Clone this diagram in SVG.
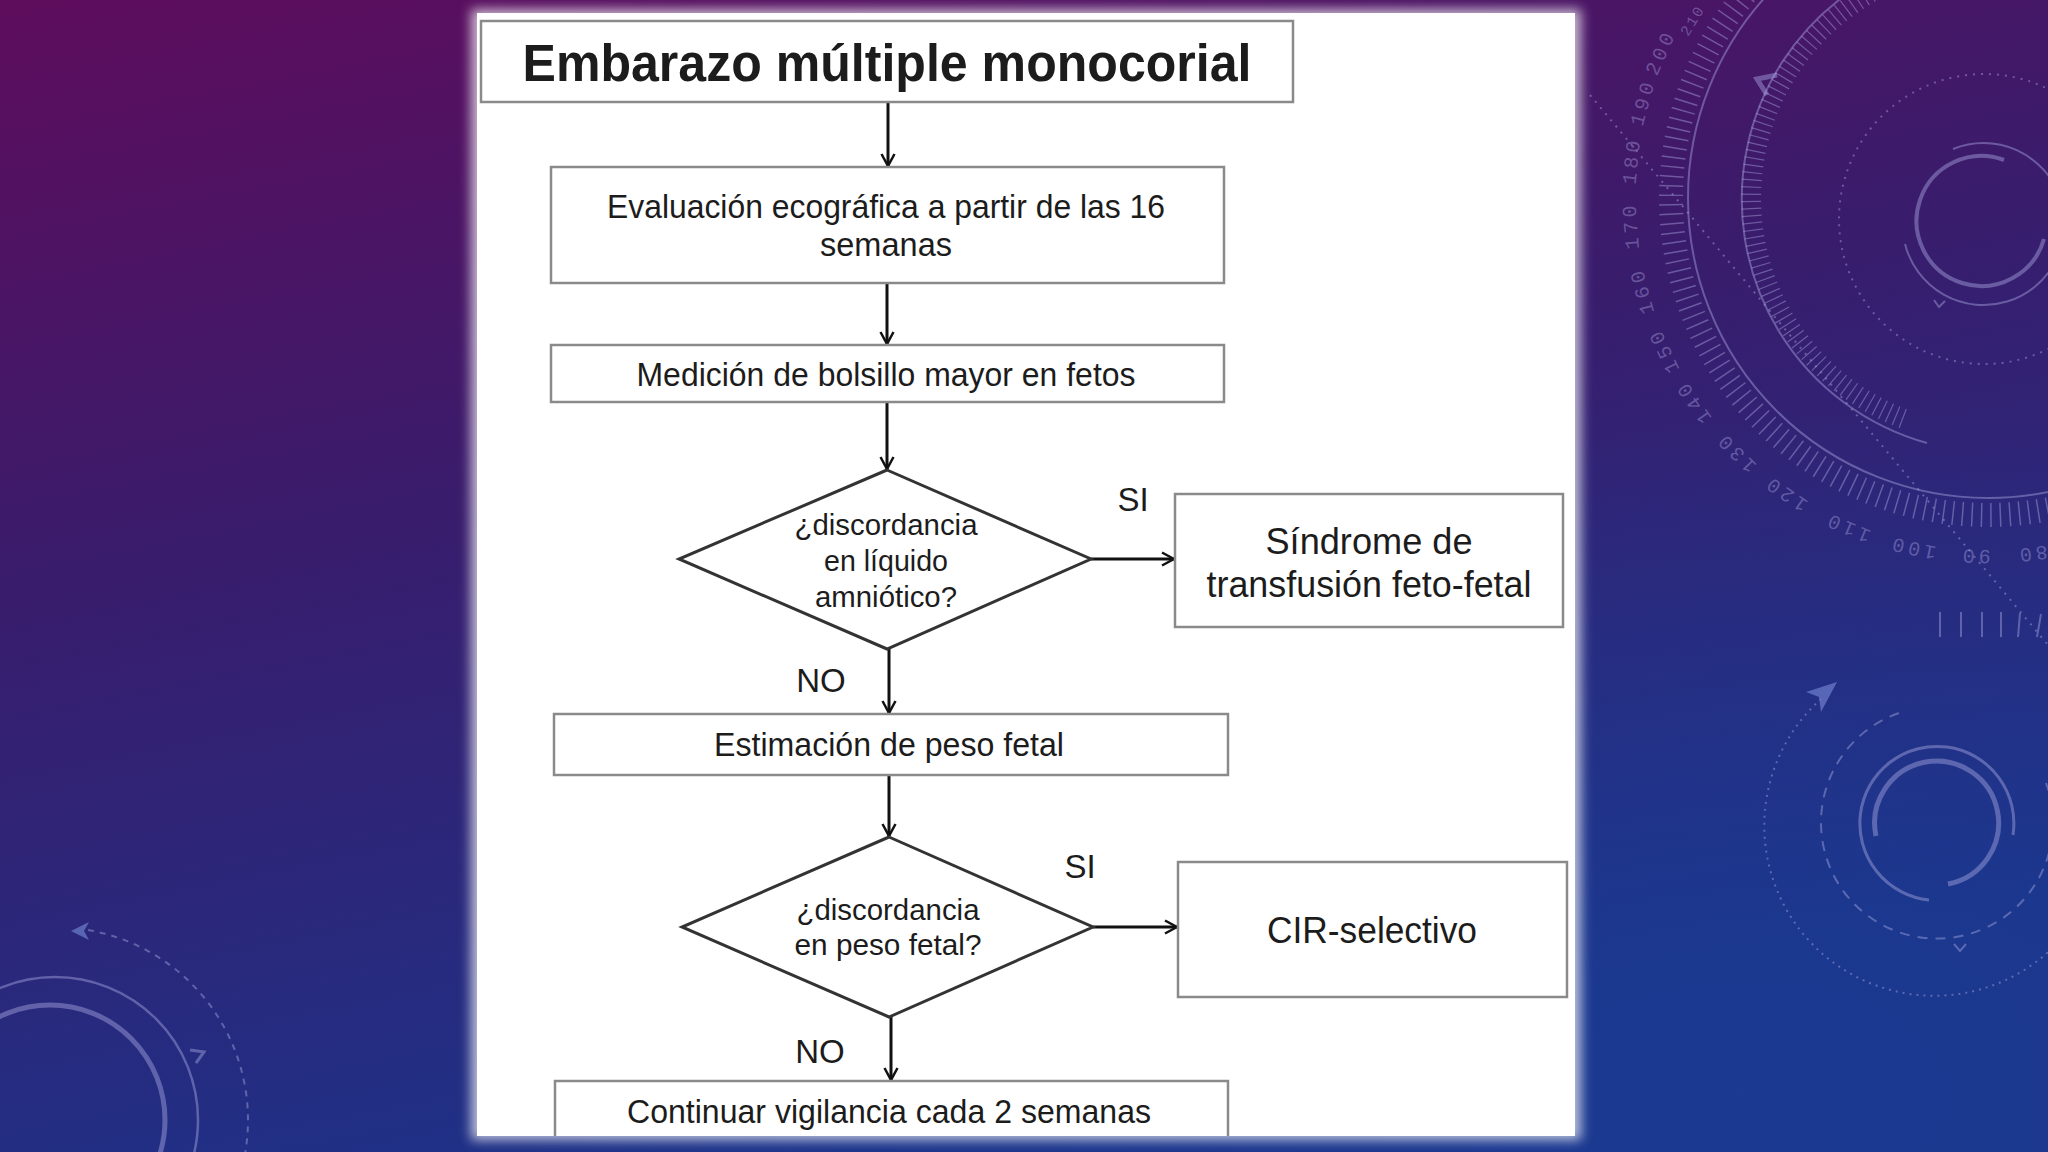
<svg xmlns="http://www.w3.org/2000/svg" width="2048" height="1152" viewBox="0 0 2048 1152">
<defs>
<linearGradient id="bg" x1="0" y1="0" x2="0.35" y2="1">
<stop offset="0" stop-color="#5e0c5c"/>
<stop offset="0.45" stop-color="#3a1c6c"/>
<stop offset="1" stop-color="#1d3288"/>
</linearGradient>
<radialGradient id="bg2" cx="0.85" cy="0.95" r="0.6">
<stop offset="0" stop-color="#1a3d95" stop-opacity="0.7"/>
<stop offset="1" stop-color="#1a3d95" stop-opacity="0"/>
</radialGradient>
<filter id="glow" x="-5%" y="-5%" width="110%" height="110%">
<feGaussianBlur stdDeviation="6"/>
</filter>
<clipPath id="panelClip"><rect x="477" y="13" width="1098" height="1123"/></clipPath>
<marker id="arr" markerWidth="16" markerHeight="16" refX="14" refY="8" orient="auto" markerUnits="userSpaceOnUse">
<path d="M2,1.5 L14,8 L2,14.5" fill="none" stroke="#111" stroke-width="2.5"/>
</marker>
<style>
.box{fill:#fff;stroke:#8a8a8a;stroke-width:2.5}
.dia{fill:#fff;stroke:#333;stroke-width:3}
.t{font-family:"Liberation Sans",Arial,sans-serif;fill:#1c1c1c;text-anchor:middle}
.lbl{font-family:"Liberation Sans",Arial,sans-serif;fill:#1c1c1c;font-size:33px;text-anchor:middle}
.con{stroke:#111;stroke-width:3;fill:none;marker-end:url(#arr)}
.deco{fill:none;stroke:#a9a6e0;stroke-opacity:0.45}
.num{font-family:"Liberation Mono","DejaVu Sans Mono",monospace;font-size:20px;fill:#b6aee6;fill-opacity:0.4;text-anchor:middle;letter-spacing:4px}
</style>
</defs>
<rect width="2048" height="1152" fill="url(#bg)"/>
<rect width="2048" height="1152" fill="url(#bg2)"/>

<g id="decorations">
<!-- top right dial -->
<line x1="1590" y1="95" x2="2048" y2="645" class="deco" stroke-width="2" stroke-dasharray="2 6" stroke-opacity="0.3"/>
<circle class="deco" cx="1988" cy="198" r="300" stroke-width="2" stroke-opacity="0.55"/>
<circle class="deco" cx="1988" cy="198" r="317" stroke-width="24" stroke-dasharray="1.5 8" stroke-opacity="0.22"/>
<path class="deco" d="M2032,-51 A253,253 0 0,0 1927,443" stroke-width="2" stroke-opacity="0.55"/>
<path class="deco" d="M1988,-38 A236,236 0 0,0 1907,420" stroke-width="20" stroke-dasharray="1.2 6" stroke-opacity="0.18"/>
<circle class="deco" cx="1984" cy="219" r="145" stroke-width="2" stroke-dasharray="2 6"/>
<path class="deco" d="M2004,160 A65,65 0 1,0 2044,239" stroke-width="4" stroke-opacity="0.6"/>
<path class="deco" d="M1953,149 A81,81 0 1,1 1905,244" stroke-width="2"/>
<path class="deco" d="M1934,300 L1939,307 L1945,301" stroke-width="2"/>
<path class="deco" d="M1777,75 L1757,79 L1767,95" stroke-width="5" stroke-opacity="0.55"/>
<g class="num">
<text transform="translate(1988,198) rotate(-59) translate(0,-340)" font-size="15" letter-spacing="2">210</text>
<text transform="translate(1988,198) rotate(-66) translate(0,-352)">200</text>
<text transform="translate(1988,198) rotate(-74.5) translate(0,-352)">190</text>
<text transform="translate(1988,198) rotate(-84) translate(0,-352)">180</text>
<text transform="translate(1988,198) rotate(-94.4) translate(0,-352)">170</text>
<text transform="translate(1988,198) rotate(-105) translate(0,-352)">160</text>
<text transform="translate(1988,198) rotate(-115.2) translate(0,-352)">150</text>
<text transform="translate(1988,198) rotate(-124.7) translate(0,-352)">140</text>
<text transform="translate(1988,198) rotate(-135.3) translate(0,-352)">130</text>
<text transform="translate(1988,198) rotate(-145.6) translate(0,-352)">120</text>
<text transform="translate(1988,198) rotate(-156.9) translate(0,-352)">110</text>
<text transform="translate(1988,198) rotate(-167.8) translate(0,-352)">100</text>
<text transform="translate(1988,198) rotate(-177.9) translate(0,-352)">90</text>
<text transform="translate(1988,198) rotate(-187) translate(0,-352)">80</text>
</g>
<!-- bottom right -->
<path class="deco" d="M1876,836 A62,62 0 1,1 1948,884" stroke-width="5" stroke-opacity="0.55"/>
<path class="deco" d="M2013,835 A77,77 0 1,0 1929,900" stroke-width="3"/>
<path class="deco" d="M1899,713 A116,116 0 1,0 2046,783" stroke-width="2" stroke-dasharray="10 8"/>
<path class="deco" d="M1954,944 L1960,951 L1966,944" stroke-width="2"/>
<path class="deco" d="M1821,699 A170,170 0 1,0 2067,932" stroke-width="2" stroke-dasharray="2 5"/>
<path d="M1837,682 L1806,692 L1819,697 L1821,712 Z" fill="#6a7ac8" fill-opacity="0.75"/>
<path class="deco" d="M1940,612 v25 M1961,612 v25 M1982,612 v25 M2001,612 v25 M2020,613 l-2,24 M2041,614 l-4,23" stroke-width="2"/>
<!-- bottom left -->
<circle class="deco" cx="50" cy="1120" r="115" stroke-width="5" stroke-opacity="0.55"/>
<circle class="deco" cx="55" cy="1120" r="143" stroke-width="2.5"/>
<path class="deco" d="M88,930 A193,193 0 0,1 245,1154" stroke-width="2" stroke-dasharray="6 6"/>
<path d="M71,931 L89,922 L84,931 L89,940 Z" fill="#6a7ac8" fill-opacity="0.75"/>
<path class="deco" d="M190,1050 L204,1052 L196,1063" stroke-width="3"/>
</g>

<rect x="471" y="9" width="1110" height="1131" fill="#fff" opacity="0.7" filter="url(#glow)"/>
<rect x="477" y="13" width="1098" height="1123" fill="#fff"/>

<g clip-path="url(#panelClip)">
<g id="connectors">
<line class="con" x1="888" y1="102" x2="888" y2="166"/>
<line class="con" x1="887" y1="283" x2="887" y2="344"/>
<line class="con" x1="887" y1="402" x2="887" y2="469"/>
<line class="con" x1="1091" y1="559" x2="1174" y2="559"/>
<line class="con" x1="889" y1="649" x2="889" y2="713"/>
<line class="con" x1="889" y1="775" x2="889" y2="836"/>
<line class="con" x1="1093" y1="927" x2="1177" y2="927"/>
<line class="con" x1="891" y1="1017" x2="891" y2="1080"/>
<text class="lbl" x="1133" y="511">SI</text>
<text class="lbl" x="821" y="692">NO</text>
<text class="lbl" x="1080" y="878">SI</text>
<text class="lbl" x="820" y="1063">NO</text>
</g>

<g id="n-title">
<rect class="box" x="481" y="21" width="812" height="81"/>
<text class="t" x="887" y="81" font-size="51" font-weight="bold" textLength="729" lengthAdjust="spacingAndGlyphs">Embarazo múltiple monocorial</text>
</g>
<g id="n-evaluacion">
<rect class="box" x="551" y="167" width="673" height="116"/>
<text class="t" x="886" y="218" font-size="33" textLength="558" lengthAdjust="spacingAndGlyphs">Evaluación ecográfica a partir de las 16</text>
<text class="t" x="886" y="256" font-size="33" textLength="132" lengthAdjust="spacingAndGlyphs">semanas</text>
</g>
<g id="n-medicion">
<rect class="box" x="551" y="345" width="673" height="57"/>
<text class="t" x="886" y="386" font-size="33" textLength="499" lengthAdjust="spacingAndGlyphs">Medición de bolsillo mayor en fetos</text>
</g>
<g id="n-dec1">
<polygon class="dia" points="887,470 1091,559 887,649 679,559"/>
<text class="t" x="886" y="535" font-size="30" textLength="183" lengthAdjust="spacingAndGlyphs">¿discordancia</text>
<text class="t" x="886" y="571" font-size="30" textLength="124" lengthAdjust="spacingAndGlyphs">en líquido</text>
<text class="t" x="886" y="607" font-size="30" textLength="142" lengthAdjust="spacingAndGlyphs">amniótico?</text>
</g>
<g id="n-sindrome">
<rect class="box" x="1175" y="494" width="388" height="133"/>
<text class="t" x="1369" y="554" font-size="36" textLength="207" lengthAdjust="spacingAndGlyphs">Síndrome de</text>
<text class="t" x="1369" y="597" font-size="36" textLength="325" lengthAdjust="spacingAndGlyphs">transfusión feto-fetal</text>
</g>
<g id="n-estimacion">
<rect class="box" x="554" y="714" width="674" height="61"/>
<text class="t" x="889" y="756" font-size="33" textLength="350" lengthAdjust="spacingAndGlyphs">Estimación de peso fetal</text>
</g>
<g id="n-dec2">
<polygon class="dia" points="889,837 1093,927 889,1017 682,927"/>
<text class="t" x="888" y="920" font-size="30" textLength="183" lengthAdjust="spacingAndGlyphs">¿discordancia</text>
<text class="t" x="888" y="955" font-size="30" textLength="187" lengthAdjust="spacingAndGlyphs">en peso fetal?</text>
</g>
<g id="n-cir">
<rect class="box" x="1178" y="862" width="389" height="135"/>
<text class="t" x="1372" y="943" font-size="36" textLength="210" lengthAdjust="spacingAndGlyphs">CIR-selectivo</text>
</g>
<g id="n-continuar">
<rect class="box" x="555" y="1081" width="673" height="80"/>
<text class="t" x="889" y="1123" font-size="33" textLength="524" lengthAdjust="spacingAndGlyphs">Continuar vigilancia cada 2 semanas</text>
</g>
</g>
</svg>
